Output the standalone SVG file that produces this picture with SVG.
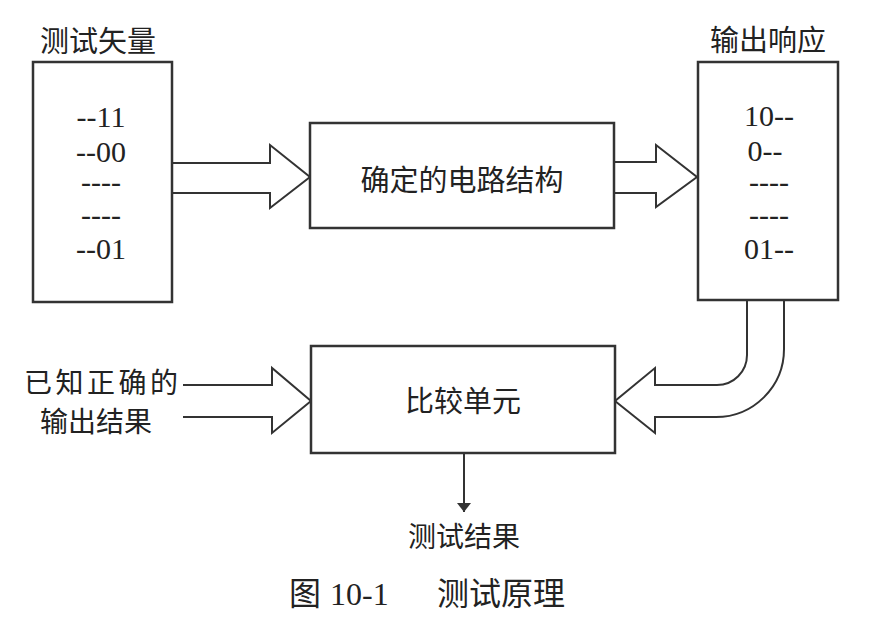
<svg xmlns="http://www.w3.org/2000/svg" width="870" height="633" viewBox="0 0 870 633">
<style>
.b{fill:#fff;stroke:#333;stroke-width:2.5}
.c{fill:#fff;stroke:#333;stroke-width:2}
.cj{font-family:"Noto Sans CJK SC",sans-serif;fill:#222}
.n{font-family:"Liberation Serif",serif;font-size:30px;fill:#222;text-anchor:middle}
</style>
<defs><marker id="ah" markerWidth="9" markerHeight="14" refX="9" refY="7" orient="auto" markerUnits="userSpaceOnUse"><path d="M0,0 L9,7 L0,14 Z" fill="#333"/></marker></defs>
<rect width="870" height="633" fill="#fff"/>
<g id="connectors">
<path class="c" d="M172,163 H270 V145 L310,177 L270,208 V193 H172"/>
<path class="c" d="M614,162 H656 V145 L697,177 L656,207 V193 H614"/>
<path class="c" d="M183,385 H272 V368 L311,401 L272,433 V417 H183"/>
<path class="c" d="M747,300 V355 A30,30 0 0 1 717,385 H655 V368 L615,401 L655,433 V417 H716 A68,68 0 0 0 784,349 V300"/>
<line x1="464" y1="454" x2="464" y2="512" stroke="#333" stroke-width="2" marker-end="url(#ah)"/>
</g>
<g id="vectors">
<text class="cj" x="40" y="52" font-size="29">测试矢量</text>
<rect class="b" x="33" y="62" width="139" height="240"/>
<text class="n" x="101" y="127">--11</text>
<text class="n" x="101" y="162">--00</text>
<text class="n" x="101" y="192">----</text>
<text class="n" x="101" y="225">----</text>
<text class="n" x="101" y="259">--01</text>
</g>
<g id="circuit">
<rect class="b" x="310" y="123" width="304" height="105"/>
<text class="cj" x="462" y="191" font-size="29" text-anchor="middle">确定的电路结构</text>
</g>
<g id="response">
<text class="cj" x="710" y="51" font-size="29">输出响应</text>
<rect class="b" x="698" y="62" width="140" height="238"/>
<text class="n" x="769" y="126">10--</text>
<text class="n" x="765" y="161">0--</text>
<text class="n" x="769" y="192">----</text>
<text class="n" x="769" y="225">----</text>
<text class="n" x="769" y="259">01--</text>
</g>
<g id="compare">
<rect class="b" x="311" y="346" width="304" height="107"/>
<text class="cj" x="463" y="412" font-size="29" text-anchor="middle">比较单元</text>
</g>
<g id="known">
<text class="cj" x="24" y="393" font-size="28" textLength="154">已知正确的</text>
<text class="cj" x="40" y="432" font-size="28">输出结果</text>
</g>
<g id="result">
<text class="cj" x="464" y="547" font-size="28" text-anchor="middle">测试结果</text>
</g>
<text x="289" y="605" font-size="32" class="cj">图</text>
<text x="330" y="605" font-size="32" font-family="Liberation Serif,serif" fill="#222">10-1</text>
<text x="437" y="605" font-size="32" class="cj">测试原理</text>
</svg>
